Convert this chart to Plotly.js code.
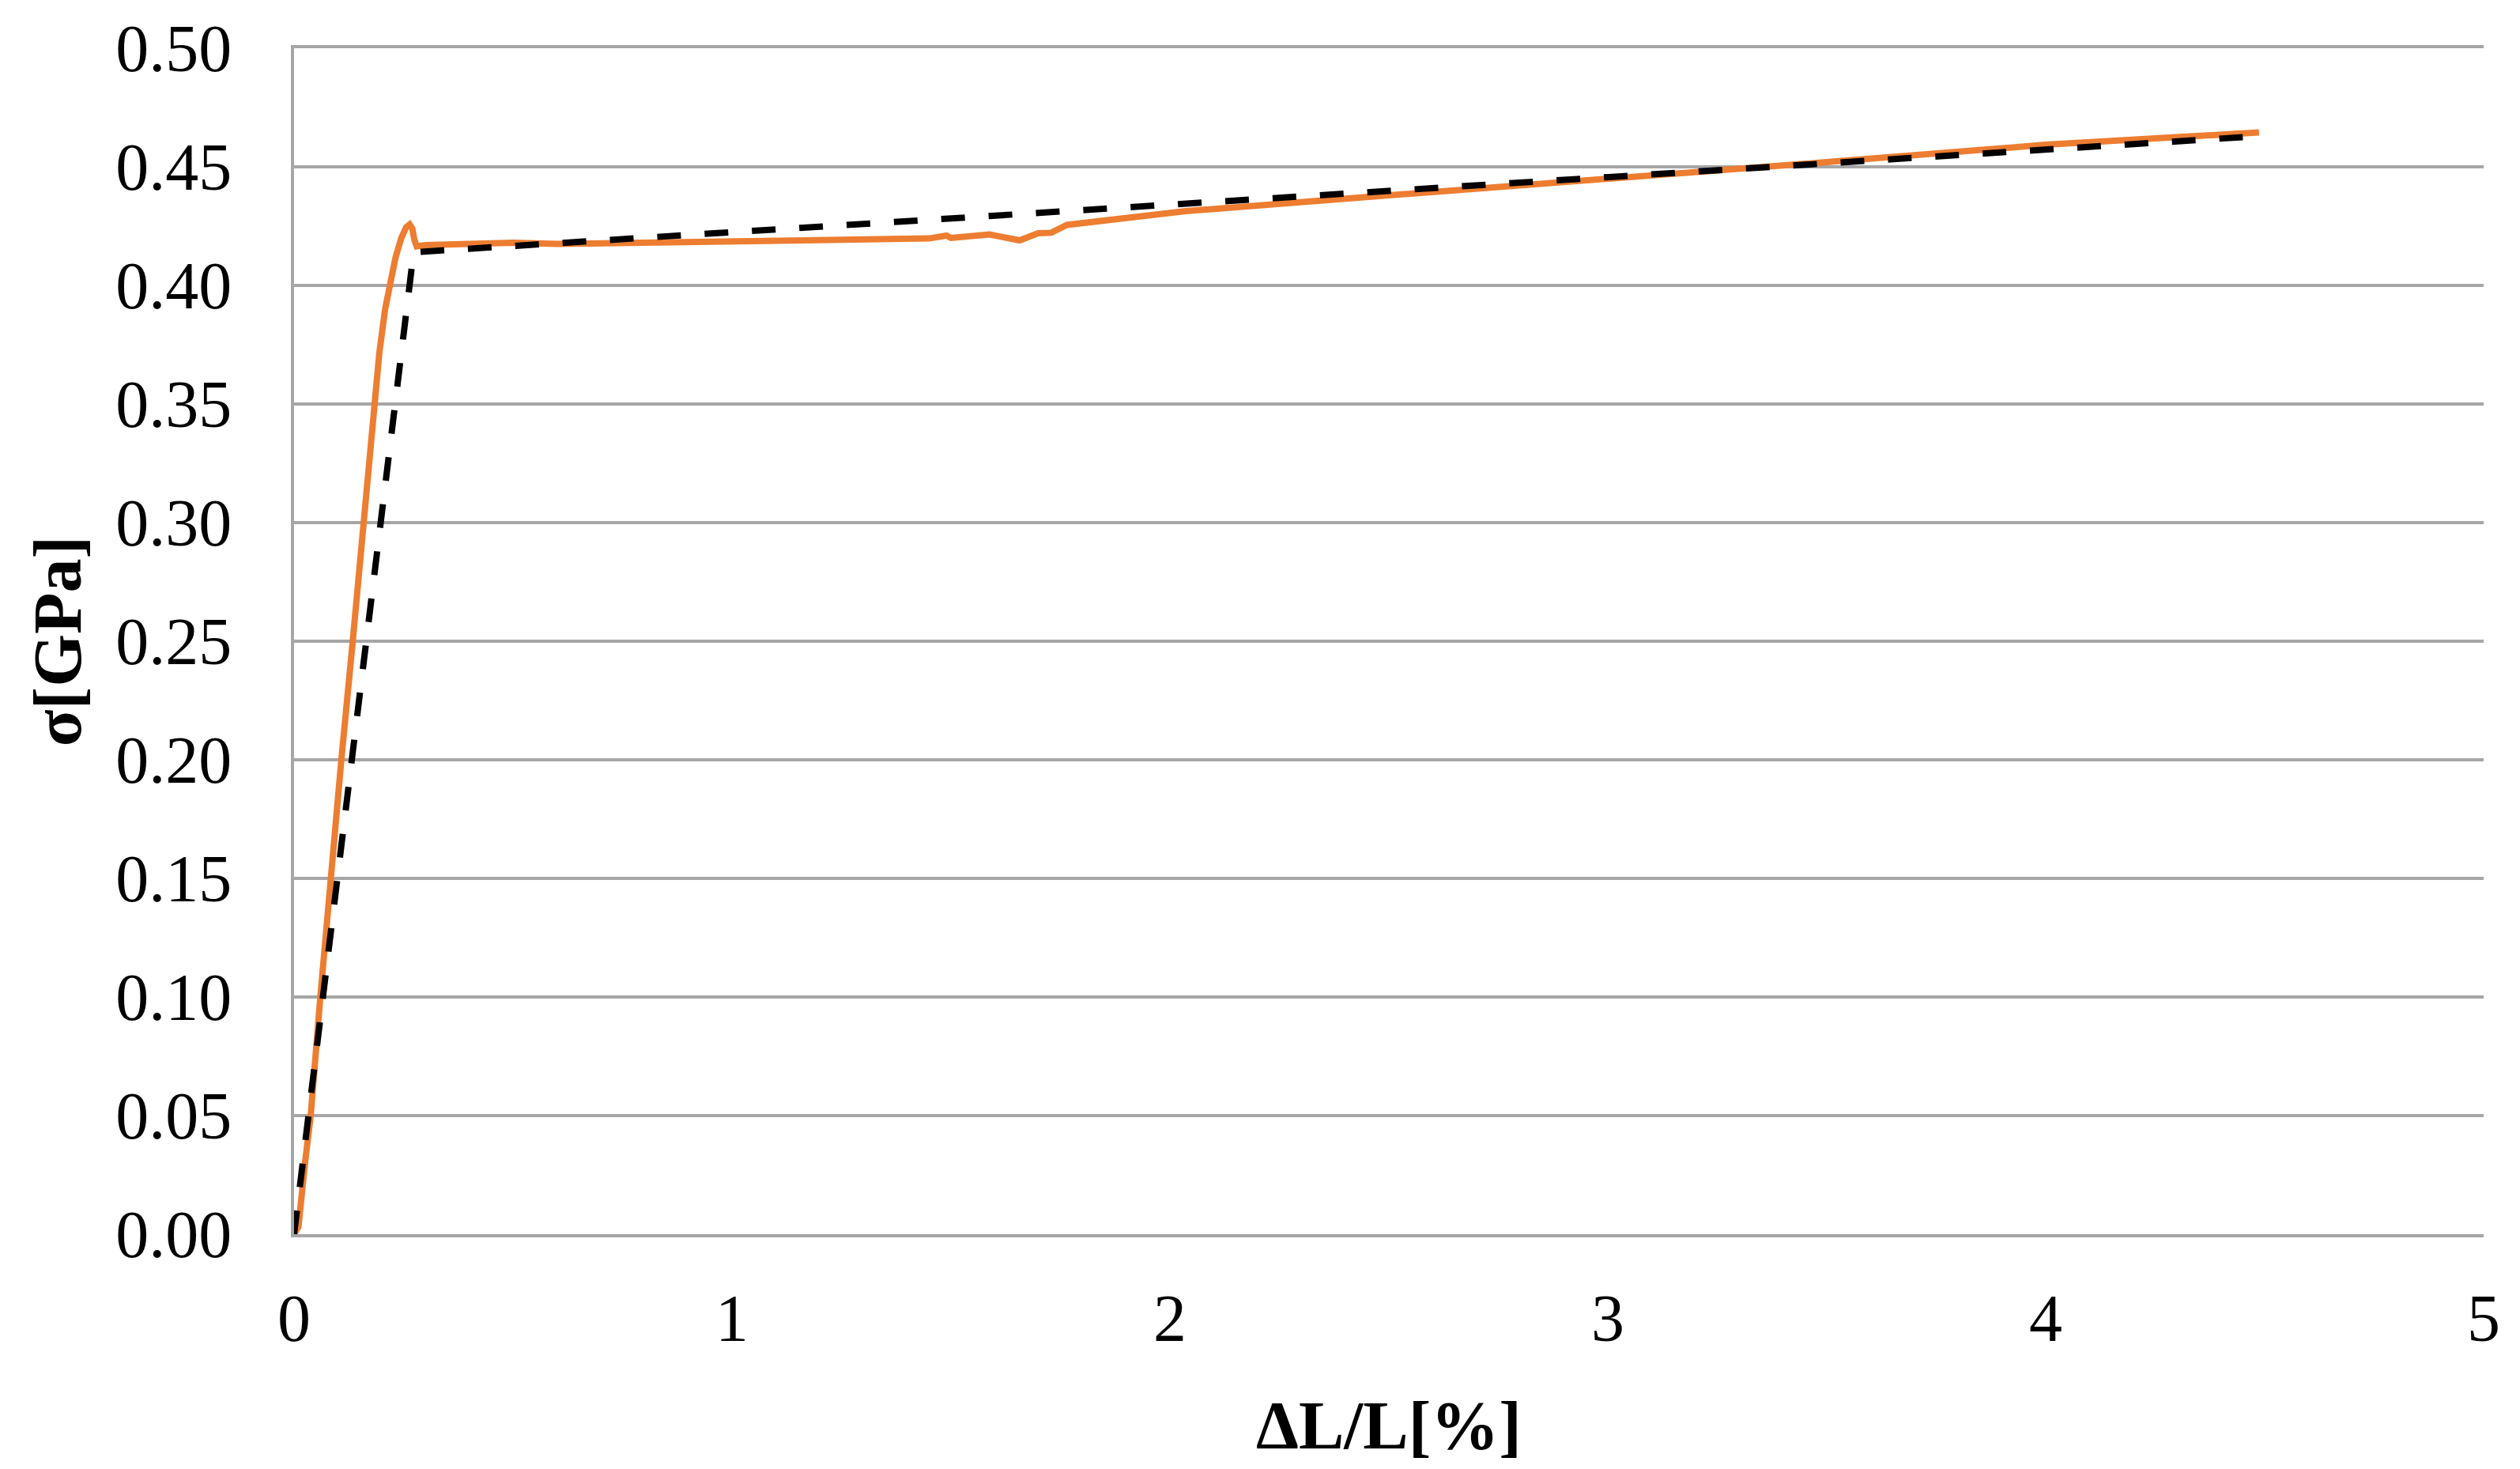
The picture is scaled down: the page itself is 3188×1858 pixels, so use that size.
<!DOCTYPE html>
<html>
<head>
<meta charset="utf-8">
<script src="https://cdn.plot.ly/plotly-3.0.1.min.js"></script>
<style>html,body{margin:0;padding:0;background:#fff;}#chart{width:3188px;height:1858px;}</style>
</head>
<body>
<div id="chart"></div>
<script>
// Measured curve (strain %, stress GPa)
const measuredStrain = [0, 0.010, 0.025, 0.038, 0.060, 0.083, 0.108, 0.134, 0.159, 0.182, 0.195, 0.208, 0.219, 0.232, 0.245, 0.256, 0.264, 0.270, 0.275, 0.280, 0.300, 0.350, 0.420, 0.500, 0.600, 0.800, 1.000, 1.134, 1.300, 1.450, 1.490, 1.500, 1.588, 1.657, 1.699, 1.729, 1.765, 2.036, 2.500, 3.000, 3.500, 4.000, 4.487];
const measuredStress = [0, 0.003, 0.030, 0.050, 0.100, 0.150, 0.200, 0.250, 0.300, 0.350, 0.372, 0.390, 0.400, 0.412, 0.420, 0.4245, 0.4257, 0.424, 0.419, 0.4165, 0.4170, 0.4173, 0.4180, 0.4180, 0.4175, 0.4180, 0.4186, 0.4190, 0.4195, 0.4198, 0.4210, 0.4200, 0.4215, 0.4190, 0.4220, 0.4222, 0.4255, 0.4313, 0.4380, 0.4448, 0.4520, 0.4593, 0.4645];
// Bilinear model (dashed)
const modelStrain = [0, 0.273, 4.45];
const modelStress = [0, 0.414, 0.4625];

const fontFamily = '"Liberation Serif", "Times New Roman", serif';
const gridColor = '#A6A6A6';

const traces = [
  {x: measuredStrain, y: measuredStress, mode: 'lines', line: {color: '#ED7D31', width: 8}, showlegend: false, hoverinfo: 'skip'},
  {x: modelStrain, y: modelStress, mode: 'lines', line: {color: '#000000', width: 8, dash: '30px,30px'}, showlegend: false, hoverinfo: 'skip'}
];

const layout = {
  width: 3188, height: 1858,
  margin: {l: 372, r: 46, t: 61, b: 297},
  paper_bgcolor: '#ffffff', plot_bgcolor: '#ffffff',
  font: {family: fontFamily, size: 84, color: '#000'},
  xaxis: {
    range: [0, 5], dtick: 1, tick0: 0,
    showgrid: false, zeroline: false,
    showline: true, mirror: true, linecolor: gridColor, linewidth: 4,
    ticks: '', ticklabelstandoff: 30,
    tickfont: {family: fontFamily, size: 84, color: '#000'},
    title: {text: '<b>ΔL/L[%]</b>', font: {family: fontFamily, size: 86, color: '#000'}, standoff: 60},
    automargin: false
  },
  yaxis: {
    range: [0, 0.5], dtick: 0.05, tick0: 0, tickformat: '.2f',
    showgrid: true, gridcolor: gridColor, gridwidth: 4,
    zeroline: false,
    showline: true, linecolor: gridColor, linewidth: 4,
    ticks: '', ticklabelstandoff: 58,
    tickfont: {family: fontFamily, size: 84, color: '#000'},
    title: {text: '<b>σ[GPa]</b>', font: {family: fontFamily, size: 86, color: '#000'}, standoff: 16},
    automargin: false
  }
};

Plotly.newPlot('chart', traces, layout, {staticPlot: true, displayModeBar: false});
</script>
</body>
</html>
